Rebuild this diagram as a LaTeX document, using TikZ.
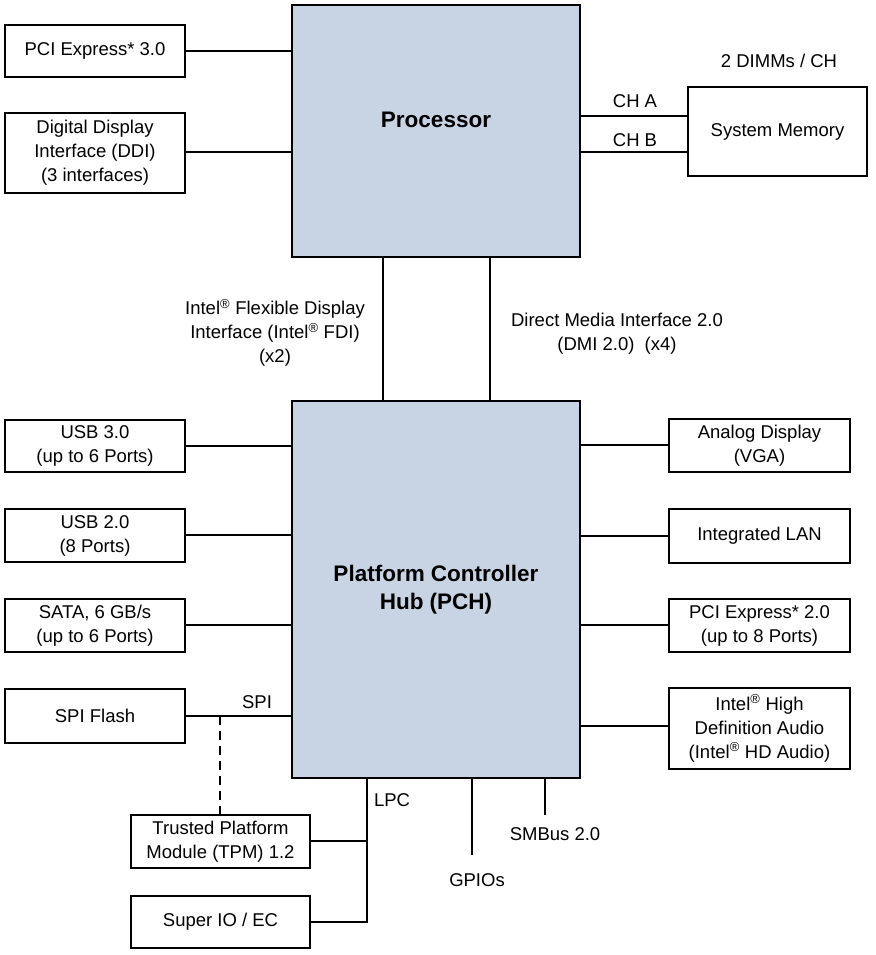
\documentclass[tikz,border=0pt]{standalone}
\usepackage{fontspec}
\setmainfont{Liberation Sans}
\begin{document}
\begin{tikzpicture}[x=1pt,y=-1pt,
  box/.style={draw,line width=1.8pt,fill=white,align=center,font=\fontsize{18.5}{24}\selectfont},
  chip/.style={draw,line width=2pt,fill=chipc,align=center,font=\fontsize{22.5}{28}\selectfont\bfseries},
  ln/.style={line width=1.8pt},
  lab/.style={font=\fontsize{18.5}{24}\selectfont,align=center}]
\definecolor{chipc}{HTML}{C8D4E3}
\useasboundingbox (0,0) rectangle (875,955);
\def\bx#1#2#3#4#5#6{\node[box,minimum width=#4-#2,minimum height=#5-#3,inner sep=0pt] (#1) at ({(#2+#4)/2},{(#3+#5)/2}) {#6};}
\node[chip,minimum width=288,minimum height=252,inner sep=0pt] (cpu) at (436,131) {Processor\\[-14pt]\strut};
\node[chip,minimum width=288,minimum height=377,inner sep=0pt] (pch) at (436,589.5) {Platform Controller\\Hub (PCH)};
\bx{pcie3}{5}{25}{185}{77}{PCI Express* 3.0}
\bx{ddi}{5}{113}{185}{193}{Digital Display\\Interface (DDI)\\(3 interfaces)}
\bx{mem}{688}{87}{867}{176}{System Memory}
\bx{usb3}{5}{420}{185}{472}{USB 3.0\\(up to 6 Ports)}
\bx{usb2}{5}{509}{185}{562}{USB 2.0\\(8 Ports)}
\bx{sata}{5}{599}{185}{652}{SATA, 6 GB/s\\(up to 6 Ports)}
\bx{spi}{5}{689}{185}{743}{SPI Flash}
\bx{tpm}{131}{815}{310}{868}{Trusted Platform\\Module (TPM) 1.2}
\bx{sio}{131}{896}{310}{948}{Super IO / EC}
\bx{vga}{669}{419}{850}{472}{Analog Display\\(VGA)}
\bx{lan}{669}{509}{850}{563}{Integrated LAN}
\bx{pcie2}{669}{599}{850}{652}{PCI Express* 2.0\\(up to 8 Ports)}
\bx{hda}{669}{688}{850}{769}{Intel\textsuperscript{\textregistered} High\\Definition Audio\\(Intel\textsuperscript{\textregistered} HD Audio)}
\draw[ln] (pcie3.east|-0,51) -- (cpu.west|-0,51);
\draw[ln] (ddi.east|-0,152) -- (cpu.west|-0,152);
\draw[ln] (cpu.east|-0,116) -- (mem.west|-0,116);
\draw[ln] (cpu.east|-0,152) -- (mem.west|-0,152);
\node[lab] (cha) at (635,101) {CH A};
\node[lab] (chb) at (635,140) {CH B};
\node[lab] (dimm) at (779,61) {2 DIMMs / CH};
\draw[line width=2.6pt] (cpu.south-|383,0) -- (pch.north-|383,0);
\draw[line width=2.6pt] (cpu.south-|490,0) -- (pch.north-|490,0);
\node[lab] (fdi) at (275,333) {Intel\textsuperscript{\textregistered} Flexible Display\\Interface (Intel\textsuperscript{\textregistered} FDI)\\(x2)};
\node[lab] (dmi) at (617,334) {Direct Media Interface 2.0\\(DMI 2.0)\ \ (x4)};
\foreach \b/\y in {usb3/446,usb2/535,sata/625,spi/716} \draw[ln] (\b.east|-0,\y) -- (pch.west|-0,\y);
\foreach \b/\y in {vga/445,lan/536,pcie2/625,hda/726} \draw[ln] (\b.west|-0,\y) -- (pch.east|-0,\y);
\node[lab] (spil) at (257,702) {SPI};
\coordinate (d1) at (220,716);
\draw[ln,dash pattern=on 9pt off 6pt] (d1) -- (d1|-tpm.north);
\coordinate (lpcb) at (367,922);
\draw[ln] (pch.south-|lpcb) -- (lpcb) -- (sio.east|-lpcb);
\draw[ln] (tpm.east|-0,841) -- (367,841);
\node[lab] (lpc) at (392,800) {LPC};
\coordinate (g) at (472,855);
\draw[line width=2.6pt] (pch.south-|g) -- (g);
\node[lab] (gpio) at (477,880) {GPIOs};
\coordinate (s) at (545,815);
\draw[ln] (pch.south-|s) -- (s);
\node[lab] (smb) at (555,834) {SMBus 2.0};
\end{tikzpicture}
\end{document}
